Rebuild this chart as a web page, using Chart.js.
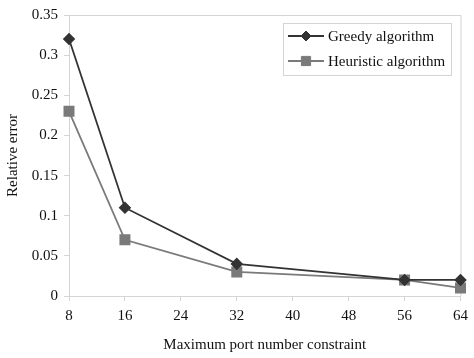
<!DOCTYPE html>
<html>
<head>
<meta charset="utf-8">
<script src="https://cdn.jsdelivr.net/npm/chart.js@4/dist/chart.umd.min.js"></script>
<style>
  html, body { margin: 0; padding: 0; background: #fff; }
  #wrap { width: 474px; height: 358px; }
</style>
</head>
<body>
<div id="wrap"><canvas id="chart" width="474" height="358"></canvas></div>
<script>
const portLimits = [8, 16, 32, 56, 64];
const greedyError = [0.32, 0.11, 0.04, 0.02, 0.02];
const heuristicError = [0.23, 0.07, 0.03, 0.02, 0.01];
const seriesNames = ["Greedy algorithm", "Heuristic algorithm"];

const serif = "'Liberation Serif', 'DejaVu Serif', serif";
const frameColor = "#d4d4d4";

function toPoints(values) {
    return portLimits.map((x, i) => ({ x: x, y: values[i] }));
}

// light frame on the top and right of the plot area
const frame = {
    id: "frame",
    beforeDatasetsDraw(chart) {
        const a = chart.chartArea;
        const ctx = chart.ctx;
        ctx.save();
        ctx.strokeStyle = frameColor;
        ctx.lineWidth = 1;
        ctx.beginPath();
        ctx.moveTo(a.left, a.top + 0.5);
        ctx.lineTo(a.right + 0.5, a.top + 0.5);
        ctx.lineTo(a.right + 0.5, a.bottom);
        ctx.stroke();
        ctx.restore();
    }
};

// boxed legend inside the plot, top right
const boxLegend = {
    id: "boxLegend",
    afterDraw(chart) {
        const ctx = chart.ctx;
        const x0 = 283, y0 = 23, w = 168, h = 52;
        ctx.save();
        ctx.fillStyle = "#fff";
        ctx.fillRect(x0, y0, w, h);
        ctx.strokeStyle = frameColor;
        ctx.lineWidth = 1;
        ctx.strokeRect(x0 + 0.5, y0 + 0.5, w, h);
        ctx.font = "15px " + serif;
        ctx.textBaseline = "middle";
        chart.data.datasets.forEach((ds, i) => {
            const cy = y0 + 13 + i * 25;
            ctx.strokeStyle = ds.borderColor;
            ctx.fillStyle = ds.pointBackgroundColor;
            ctx.lineWidth = ds.borderWidth;
            ctx.beginPath();
            ctx.moveTo(x0 + 5, cy);
            ctx.lineTo(x0 + 41, cy);
            ctx.stroke();
            ctx.lineWidth = 1;
            Chart.helpers.drawPoint(ctx, {
                pointStyle: ds.pointStyle,
                radius: ds.pointRadius,
                borderWidth: 1
            }, x0 + 23, cy);
            ctx.fillStyle = "#111";
            ctx.fillText(ds.label, x0 + 45, cy + 1);
        });
        ctx.restore();
    }
};

new Chart(document.getElementById("chart"), {
    type: "line",
    data: {
        datasets: [{
            label: seriesNames[0],
            data: toPoints(greedyError),
            borderColor: "#333333",
            backgroundColor: "#333333",
            borderWidth: 1.8,
            pointStyle: "rectRot",
            pointRadius: 5,
            pointBorderColor: "#333333",
            pointBackgroundColor: "#333333",
            tension: 0,
            clip: false
        }, {
            label: seriesNames[1],
            data: toPoints(heuristicError),
            borderColor: "#7a7a7a",
            backgroundColor: "#7a7a7a",
            borderWidth: 1.8,
            pointStyle: "rect",
            pointRadius: 6.5,
            pointBorderColor: "#7a7a7a",
            pointBackgroundColor: "#7a7a7a",
            tension: 0,
            clip: false
        }]
    },
    options: {
        responsive: false,
        animation: false,
        layout: { padding: { top: 12, right: 12, left: 0, bottom: 0 } },
        plugins: {
            legend: { display: false },
            tooltip: { enabled: false }
        },
        scales: {
            x: {
                type: "linear",
                min: 8,
                max: 64,
                afterFit(scale) { scale.height = 62; },
                ticks: {
                    stepSize: 8,
                    color: "#111",
                    font: { family: serif, size: 15 },
                    padding: 6
                },
                grid: { drawOnChartArea: false, color: frameColor, tickLength: 5 },
                border: { color: frameColor },
                title: {
                    display: true,
                    text: "Maximum port number constraint",
                    color: "#111",
                    font: { family: serif, size: 15 },
                    padding: { top: 8 }
                }
            },
            y: {
                min: 0,
                max: 0.35,
                afterFit(scale) { scale.width = 69; },
                ticks: {
                    stepSize: 0.05,
                    color: "#111",
                    font: { family: serif, size: 15 },
                    padding: 6,
                    callback: v => String(parseFloat(v.toFixed(2)))
                },
                grid: { drawOnChartArea: false, color: frameColor, tickLength: 5 },
                border: { color: frameColor },
                title: {
                    display: true,
                    text: "Relative error",
                    color: "#111",
                    font: { family: serif, size: 15 },
                    padding: { bottom: 0 }
                }
            }
        }
    },
    plugins: [frame, boxLegend]
});
</script>
</body>
</html>
